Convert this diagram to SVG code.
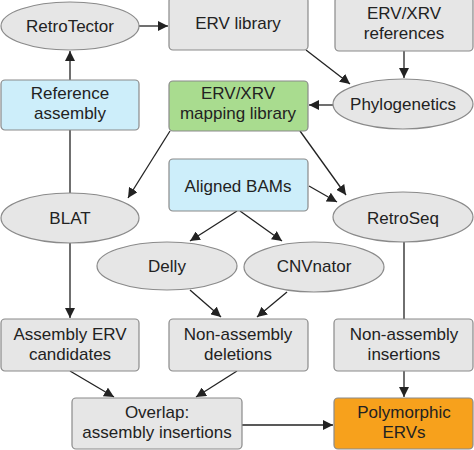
<svg xmlns="http://www.w3.org/2000/svg" width="474" height="450" viewBox="0 0 474 450">
<style>
.box{fill:#e6e6e6;stroke:#8a8a8a;stroke-width:1.2}
.ell{fill:#e6e6e6;stroke:#8a8a8a;stroke-width:1.2}
.blue{fill:#cdeefa}
.green{fill:#a9dc8f}
.orange{fill:#f7a11c}
text{font-family:"Liberation Sans",Arial,sans-serif;font-size:17px;fill:#222;text-anchor:middle}
.c line{stroke:#222;stroke-width:1.3}
.c .a{marker-end:url(#ah)}
</style>
<defs>
<marker id="ah" viewBox="0 0 10 10" refX="10" refY="5" markerWidth="10" markerHeight="10" markerUnits="userSpaceOnUse" orient="auto">
<path d="M0,0 L10,5 L0,10 z" fill="#222"/>
</marker>
</defs>
<g class="c">
<line class="a" x1="139" y1="26" x2="168" y2="26"/>
<line class="a" x1="70" y1="80" x2="70" y2="51"/>
<line class="a" x1="306" y1="50" x2="350" y2="84"/>
<line class="a" x1="404" y1="51" x2="404" y2="78"/>
<line class="a" x1="333" y1="105" x2="309" y2="105"/>
<line x1="70" y1="130" x2="70" y2="193"/>
<line class="a" x1="170" y1="131" x2="128" y2="198"/>
<line class="a" x1="300" y1="131" x2="346" y2="195"/>
<line class="a" x1="309" y1="186" x2="337" y2="202"/>
<line class="a" x1="237" y1="211" x2="190" y2="241"/>
<line class="a" x1="240" y1="211" x2="282" y2="241"/>
<line class="a" x1="70" y1="243" x2="70" y2="318"/>
<line x1="404" y1="242" x2="404" y2="319"/>
<line class="a" x1="190" y1="290" x2="221" y2="317"/>
<line class="a" x1="287" y1="292" x2="257" y2="317"/>
<line class="a" x1="404" y1="371" x2="404" y2="397"/>
<line class="a" x1="70" y1="371" x2="114" y2="397"/>
<line class="a" x1="237" y1="371" x2="196" y2="397"/>
<line class="a" x1="242" y1="425" x2="333" y2="425"/>
</g>
<g id="retrotector"><ellipse class="ell" cx="70" cy="26" rx="69" ry="24"/><text x="70" y="32">RetroTector</text></g>
<g id="erv-library"><rect class="box" x="169" y="-3" width="139" height="53" rx="4"/><text x="238" y="29">ERV library</text></g>
<g id="erv-xrv-references"><rect class="box" x="335" y="-3" width="138" height="54" rx="4"/><text x="404" y="19">ERV/XRV</text><text x="404" y="39">references</text></g>
<g id="reference-assembly"><rect class="box blue" x="1" y="80" width="138" height="50" rx="4"/><text x="70" y="99">Reference</text><text x="70" y="119">assembly</text></g>
<g id="mapping-library"><rect class="box green" x="169" y="81" width="139" height="50" rx="4"/><text x="238" y="99">ERV/XRV</text><text x="238" y="119">mapping library</text></g>
<g id="phylogenetics"><ellipse class="ell" cx="403" cy="104" rx="70" ry="25"/><text x="403" y="110">Phylogenetics</text></g>
<g id="aligned-bams"><rect class="box blue" x="169" y="159" width="139" height="52" rx="4"/><text x="238" y="192">Aligned BAMs</text></g>
<g id="blat"><ellipse class="ell" cx="70" cy="218" rx="69" ry="25"/><text x="70" y="224">BLAT</text></g>
<g id="retroseq"><ellipse class="ell" cx="403" cy="217" rx="70" ry="25"/><text x="403" y="224">RetroSeq</text></g>
<g id="delly"><ellipse class="ell" cx="167" cy="266" rx="70" ry="24"/><text x="167" y="272">Delly</text></g>
<g id="cnvnator"><ellipse class="ell" cx="314" cy="267" rx="70" ry="25"/><text x="314" y="272">CNVnator</text></g>
<g id="assembly-erv-candidates"><rect class="box" x="1" y="319" width="138" height="52" rx="4"/><text x="70" y="340">Assembly ERV</text><text x="70" y="360">candidates</text></g>
<g id="non-assembly-deletions"><rect class="box" x="169" y="319" width="139" height="52" rx="4"/><text x="238" y="340">Non-assembly</text><text x="238" y="360">deletions</text></g>
<g id="non-assembly-insertions"><rect class="box" x="334" y="319" width="139" height="52" rx="4"/><text x="404" y="340">Non-assembly</text><text x="404" y="360">insertions</text></g>
<g id="overlap"><rect class="box" x="72" y="398" width="170" height="51" rx="4"/><text x="157" y="418">Overlap:</text><text x="157" y="438">assembly insertions</text></g>
<g id="polymorphic-ervs"><rect class="box orange" x="334" y="398" width="139" height="51" rx="4"/><text x="404" y="418">Polymorphic</text><text x="404" y="438">ERVs</text></g>
</svg>
